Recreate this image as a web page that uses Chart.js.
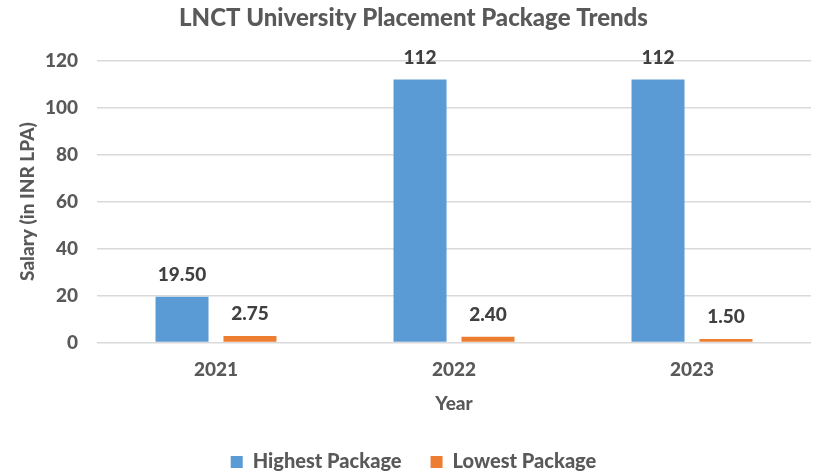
<!DOCTYPE html>
<html>
<head>
<meta charset="utf-8">
<script src="https://cdn.jsdelivr.net/npm/chart.js@4"></script>
<style>
html,body{margin:0;padding:0;background:#fff;}
#wrap{width:819px;height:475px;position:relative;}
</style>
</head>
<body>
<div id="wrap"><canvas id="c"></canvas></div>
<script>
const categories = ["2021", "2022", "2023"];
const highestPackage = [19.5, 112, 112];
const lowestPackage = [2.75, 2.4, 1.5];
const seriesNames = ["Highest Package", "Lowest Package"];
const titleText = "LNCT University Placement Package Trends";
const yTitle = "Salary (in INR LPA)";
const xTitle = "Year";

const FONT = "Lato, 'Open Sans', sans-serif";
const TXT = "#595959";
const W = 900;

const labelPlugin = {
  id: "valueLabels",
  afterDatasetsDraw(chart) {
    const ctx = chart.ctx;
    ctx.save();
    ctx.font = W + " 19px " + FONT;
    ctx.fillStyle = "#404040";
    ctx.textAlign = "center";
    ctx.textBaseline = "middle";
    chart.data.datasets.forEach((ds, i) => {
      chart.getDatasetMeta(i).data.forEach((bar, j) => {
        const v = ds.data[j];
        const s = Number.isInteger(v) ? String(v) : v.toFixed(2);
        ctx.fillText(s, bar.x, bar.y - 22);
      });
    });
    ctx.restore();
  }
};

new Chart(document.getElementById("c"), {
  type: "bar",
  data: {
    labels: categories,
    datasets: [
      { label: seriesNames[0], data: highestPackage, backgroundColor: "#5B9BD5" },
      { label: seriesNames[1], data: lowestPackage, backgroundColor: "#ED7D31" }
    ]
  },
  options: {
    responsive: true,
    maintainAspectRatio: false,
    animation: false,
    layout: { padding: { left: 16, right: 8, top: 0, bottom: -7 } },
    datasets: { bar: { categoryPercentage: 0.571, barPercentage: 0.78 } },
    plugins: {
      title: {
        display: true, text: titleText, color: TXT,
        font: { family: FONT, size: 24, weight: W },
        padding: { top: 4, bottom: 28 }
      },
      legend: {
        position: "bottom",
        labels: {
          color: TXT, boxWidth: 12, boxHeight: 12,
          font: { family: FONT, size: 20, weight: W },
          padding: 10,
          generateLabels(chart) {
            const items = Chart.defaults.plugins.legend.labels.generateLabels(chart);
            items.forEach((it, i) => { if (i < items.length - 1) it.text = it.text + "    "; });
            return items;
          }
        }
      },
      tooltip: { enabled: false }
    },
    scales: {
      x: {
        grid: { display: false },
        border: { display: false },
        ticks: { color: TXT, font: { family: FONT, size: 19, weight: W }, padding: 8 },
        title: { display: true, text: xTitle, color: TXT, font: { family: FONT, size: 19, weight: W }, padding: { top: 3, bottom: 27 } }
      },
      y: {
        min: 0, max: 120,
        afterFit(scale) { scale.width = 81; },
        ticks: { stepSize: 20, color: TXT, font: { family: FONT, size: 19, weight: W }, padding: 19 },
        grid: { color: "#D9D9D9", lineWidth: 1.5, drawTicks: false },
        border: { display: false },
        title: { display: true, text: yTitle, color: TXT, font: { family: FONT, size: 19, weight: W }, padding: 0 }
      }
    }
  },
  plugins: [labelPlugin]
});
</script>
</body>
</html>
